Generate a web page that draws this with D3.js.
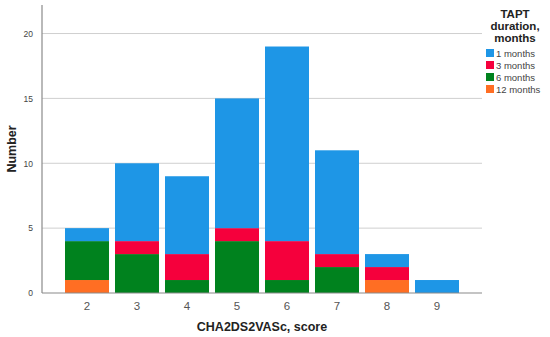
<!DOCTYPE html>
<html>
<head>
<meta charset="utf-8">
<script src="https://cdn.jsdelivr.net/npm/d3@7"></script>
<style>
	body { margin: 0; background: #fff; }
	text { font-family: Arial, "Liberation Sans", sans-serif; }
</style>
</head>
<body>
<svg id="chart"></svg>
<script>
const chartSize = { width: 550, height: 337 };
const margin = { left: 42, right: 68, top: 5, bottom: 44 };
const plotWidth = chartSize.width - margin.left - margin.right;
const plotHeight = chartSize.height - margin.top - margin.bottom;

const scores = ["2", "3", "4", "5", "6", "7", "8", "9"];
const durations = ["12 months", "6 months", "3 months", "1 months"];
const months12 = [1, 0, 0, 0, 0, 0, 1, 0];
const months6 = [3, 3, 1, 4, 1, 2, 0, 0];
const months3 = [0, 1, 2, 1, 3, 1, 1, 0];
const months1 = [1, 6, 6, 10, 15, 8, 1, 1];
const yTicks = [0, 5, 10, 15, 20];
const legendOrder = ["1 months", "3 months", "6 months", "12 months"];

const colors = {
	"1 months": "#1e96e6",
	"3 months": "#f5003c",
	"6 months": "#00821e",
	"12 months": "#ff6e23"
};

const rows = scores.map((s, i) => ({
	score: s,
	"12 months": months12[i],
	"6 months": months6[i],
	"3 months": months3[i],
	"1 months": months1[i]
}));

const svg = d3
	.select("#chart")
	.attr("width", chartSize.width)
	.attr("height", chartSize.height);

const g = svg
	.append("g")
	.attr("transform", `translate(${margin.left},${margin.top})`);

const x = d3
	.scaleBand()
	.domain(scores)
	.range([0, plotWidth])
	.paddingInner(0.12)
	.paddingOuter(0.46);

const y = d3
	.scaleLinear()
	.domain([0, 22.2])
	.range([plotHeight, 0]);

// gridlines
g.selectAll(".grid")
	.data(yTicks.filter(t => t > 0))
	.enter()
	.append("line")
	.attr("x1", 0)
	.attr("x2", plotWidth)
	.attr("y1", d => y(d))
	.attr("y2", d => y(d))
	.attr("stroke", "#cfcfcf")
	.attr("stroke-width", 1);

const stacked = d3.stack().keys(durations)(rows);

g.selectAll(".layer")
	.data(stacked)
	.enter()
	.append("g")
	.attr("fill", d => colors[d.key])
	.selectAll("rect")
	.data(d => d.filter(p => p[1] > p[0]))
	.enter()
	.append("rect")
	.attr("x", p => x(p.data.score))
	.attr("width", x.bandwidth())
	.attr("y", p => y(p[1]))
	.attr("height", p => y(p[0]) - y(p[1]));

// y axis
const yAxis = d3
	.axisLeft(y)
	.tickValues(yTicks)
	.tickSize(0)
	.tickPadding(9);

const yg = g.append("g").call(yAxis);
yg.select(".domain").remove();
yg.selectAll("text")
	.attr("font-size", 8.5)
	.attr("fill", "#444");

g.append("line")
	.attr("x1", 0)
	.attr("x2", 0)
	.attr("y1", 0)
	.attr("y2", plotHeight)
	.attr("stroke", "#8a8a8a")
	.attr("stroke-width", 1.2);

// x axis
const xAxis = d3.axisBottom(x).tickSize(0).tickPadding(9);
const xg = g
	.append("g")
	.attr("transform", `translate(0,${plotHeight})`)
	.call(xAxis);
xg.select(".domain").remove();
xg.selectAll("text")
	.attr("font-size", 11.5)
	.attr("fill", "#555");

g.append("line")
	.attr("x1", 0)
	.attr("x2", plotWidth)
	.attr("y1", plotHeight)
	.attr("y2", plotHeight)
	.attr("stroke", "#8a8a8a")
	.attr("stroke-width", 1.2);

// axis titles
svg.append("text")
	.attr("x", margin.left + plotWidth / 2)
	.attr("y", 331)
	.attr("text-anchor", "middle")
	.attr("font-size", 12.5)
	.attr("font-weight", "bold")
	.attr("fill", "#222")
	.text("CHA2DS2VASc, score");

svg.append("text")
	.attr("transform", "translate(16,149) rotate(-90)")
	.attr("text-anchor", "middle")
	.attr("font-size", 12.5)
	.attr("font-weight", "bold")
	.attr("fill", "#222")
	.text("Number");

// legend
const legend = svg.append("g").attr("transform", "translate(486,0)");

legend.selectAll(".title")
	.data(["TAPT", "duration,", "months"])
	.enter()
	.append("text")
	.attr("x", 29)
	.attr("y", (d, i) => 18 + i * 12)
	.attr("text-anchor", "middle")
	.attr("font-size", 11.5)
	.attr("font-weight", "bold")
	.attr("fill", "#222")
	.text(d => d);

const items = legend
	.selectAll(".item")
	.data(legendOrder)
	.enter()
	.append("g")
	.attr("transform", (d, i) => `translate(0,${49 + i * 12})`);

items.append("rect")
	.attr("width", 8)
	.attr("height", 8)
	.attr("fill", d => colors[d]);

items.append("text")
	.attr("x", 10)
	.attr("y", 8)
	.attr("font-size", 9.5)
	.attr("fill", "#444")
	.text(d => d);
</script>
</body>
</html>
